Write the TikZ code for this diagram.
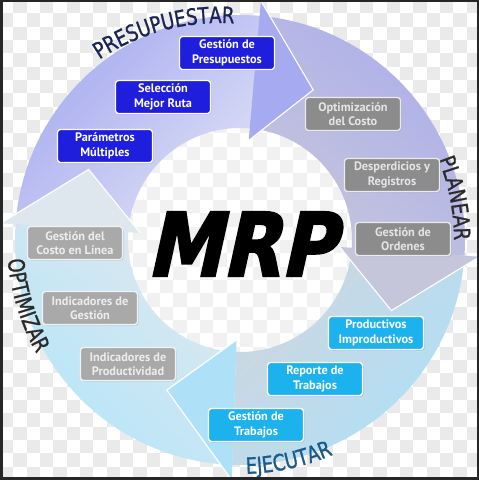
\documentclass[tikz,border=0pt]{standalone}
\usepackage{fontspec}
\setmainfont{PT Sans}
\newfontfamily\lblfont{DejaVu Sans}[FakeStretch=0.8,FakeBold=0.9]
\newfontfamily\mrpfont{DejaVu Sans}[FakeSlant=0.22,FakeStretch=0.86,FakeBold=2.2]
\usetikzlibrary{decorations.text,shadows}
\definecolor{bluebox}{HTML}{1E1EDC}
\definecolor{grayR}{HTML}{8C8C8C}
\definecolor{grayL}{HTML}{A9A9A9}
\definecolor{cyanbox}{HTML}{1CB2EE}
\definecolor{topA}{HTML}{DCDFF5}
\definecolor{topB}{HTML}{A6AAF0}
\definecolor{plA}{HTML}{ACAEEC}
\definecolor{plB}{HTML}{C6C6DA}
\definecolor{ejA}{HTML}{CED6DF}
\definecolor{ejB}{HTML}{AEE0F7}
\definecolor{opA}{HTML}{B4E6FA}
\definecolor{opB}{HTML}{DEE7EE}
\definecolor{checker}{HTML}{EAEAEA}
\definecolor{navy}{HTML}{1B2456}
\definecolor{teal}{HTML}{1A5A86}
\definecolor{dkgray}{HTML}{2A2A2A}
\tikzset{
  box/.style={rounded corners=3pt, minimum width=95pt, minimum height=33pt,
    align=center, inner sep=1pt, line width=1.3pt,
    font=\bfseries\fontsize{12.3}{14.5}\selectfont,
    drop shadow={shadow xshift=1.2pt, shadow yshift=-1.2pt, opacity=0.25}},
  bluebx/.style={box, fill=bluebox, draw=white, text=white},
  grayrbx/.style={box, fill=grayR, draw=white!92!black, text=white!90!black},
  graylbx/.style={box, fill=grayL, draw=white!95!black, text=white!93!black},
  cyanbx/.style={box, fill=cyanbox, draw=white, text=white},
  headst/.style={draw=white, line width=1.1pt, line join=miter},
  lbl/.style={decorate, decoration={text along path, text align=center}}
}
\begin{document}
\begin{tikzpicture}[x=1pt,y=1pt]
\useasboundingbox (0,0) rectangle (479,480);
\fill[white] (0,0) rectangle (479,480);
% checkerboard background
\foreach \i in {0,...,35}{
  \foreach \j in {0,...,35}{
    \pgfmathtruncatemacro\k{mod(\i+\j,2)}
    \ifnum\k=1
      \fill[checker] (\i*13.33,480-\j*13.33) rectangle ++(13.33,-13.33);
    \fi
  }
}
\begin{scope}[shift={(240,240)}]
  \fill[white, opacity=0.35] (0,0) circle[radius=112pt];
  % bodies
  \shade[bottom color=topA, top color=topB, shading angle=45]
    (176:225pt) arc[start angle=176, end angle=85, radius=225pt]
    -- (85:112pt) arc[start angle=85, end angle=176, radius=112pt] -- cycle;
  \shade[bottom color=plA, top color=plB, shading angle=140]
    (85:225pt) arc[start angle=85, end angle=-4, radius=225pt]
    -- (-4:112pt) arc[start angle=-4, end angle=85, radius=112pt] -- cycle;
  \shade[bottom color=ejA, top color=ejB, shading angle=228]
    (-4:225pt) arc[start angle=-4, end angle=-92, radius=225pt]
    -- (-92:112pt) arc[start angle=-92, end angle=-4, radius=112pt] -- cycle;
  \shade[bottom color=opA, top color=opB, shading angle=318]
    (268:225pt) arc[start angle=268, end angle=176, radius=225pt]
    -- (176:112pt) arc[start angle=176, end angle=268, radius=112pt] -- cycle;
  % heads
  \coordinate (hTa) at (85:240pt);
  \coordinate (hTt) at (64:167pt);
  \coordinate (hTb) at (85:100pt);
  \coordinate (hPa) at (-4:240pt);
  \coordinate (hPt) at (-25:167pt);
  \coordinate (hPb) at (-4:100pt);
  \coordinate (hEa) at (-92:240pt);
  \coordinate (hEt) at (-116:167pt);
  \coordinate (hEb) at (-92:100pt);
  \coordinate (hOa) at (176:240pt);
  \coordinate (hOt) at (155:167pt);
  \coordinate (hOb) at (176:100pt);
  \filldraw[headst, fill=topB] (hTa) -- (hTt) -- (hTb);
  \filldraw[headst, fill=plB] (hPa) -- (hPt) -- (hPb);
  \filldraw[headst, fill=ejB] (hEa) -- (hEt) -- (hEb);
  \filldraw[headst, fill=opB] (hOa) -- (hOt) -- (hOb);
  % curved labels
  \path[lbl, decoration={text color=dkgray,
      text={|\lblfont\fontsize{22.5}{22.5}\selectfont|PLANEAR}}]
    (26:214pt) arc[start angle=26, end angle=-4, radius=214pt];
  \path[lbl, decoration={text color=teal,
      text={|\lblfont\fontsize{22.5}{22.5}\selectfont|EJECUTAR}}]
    (-93:234pt) arc[start angle=-93, end angle=-62, radius=234pt];
  \path[lbl, decoration={text color=dkgray,
      text={|\lblfont\fontsize{22.5}{22.5}\selectfont|OPTIMIZAR}}]
    (181:233pt) arc[start angle=181, end angle=213, radius=233pt];
\end{scope}
\begin{scope}[shift={(220,240)}]
  \path[lbl, decoration={text color=navy,
      text={|\lblfont\fontsize{22.5}{22.5}\selectfont|PRESUPUESTAR}}]
    (128:217pt) arc[start angle=128, end angle=82, radius=217pt];
\end{scope}
% centre title
\node[font=\mrpfont\bfseries\fontsize{88}{88}\selectfont, text=black, inner sep=0pt] (mrp) at (241,236) {MRP};
% boxes
\node[bluebx] (gp)  at (227,427) {Gestión de\\Presupuestos};
\node[bluebx] (smr) at (163,383) {Selección\\Mejor Ruta};
\node[bluebx] (pm)  at (105,334) {Parámetros\\Múltiples};
\node[grayrbx] (oc) at (353,366) {Optimización\\del Costo};
\node[grayrbx] (dr) at (392,305) {Desperdicios y\\Registros};
\node[grayrbx] (go) at (403,241) {Gestión de\\Ordenes};
\node[cyanbx] (pi)  at (376,147) {Productivos\\Improductivos};
\node[cyanbx] (rt)  at (315,101) {Reporte de\\Trabajos};
\node[cyanbx] (gt)  at (256,55)  {Gestión de\\Trabajos};
\node[graylbx] (gcl) at (75,237)  {Gestión del\\Costo en Línea};
\node[graylbx] (ig)  at (90,172)  {Indicadores de\\Gestión};
\node[graylbx] (ip)  at (128,116) {Indicadores de\\Productividad};
% frame
\draw[line width=2.5pt, black!85] (1.25,1.25) rectangle (477.75,478.75);
\end{tikzpicture}
\end{document}
